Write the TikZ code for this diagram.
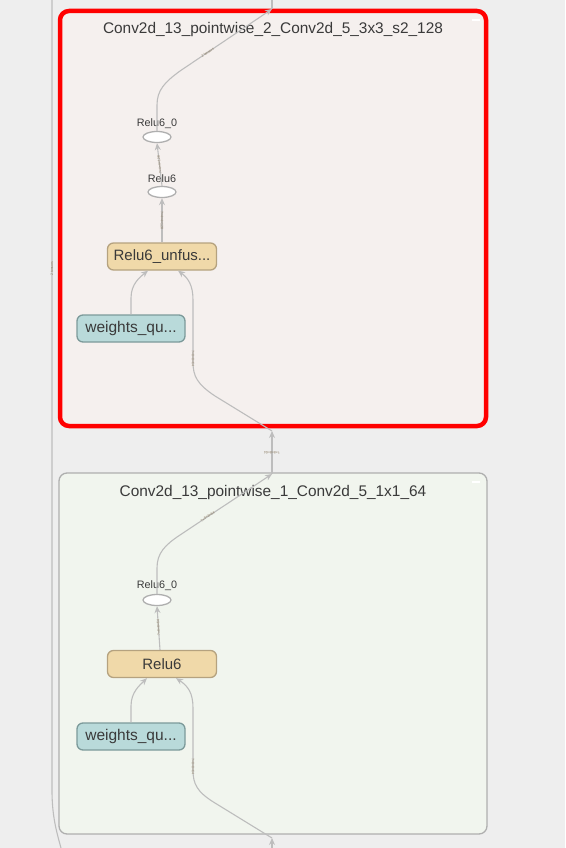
\documentclass[tikz,border=0pt]{standalone}
\usepackage{fontspec}
\setmainfont{Liberation Sans}
\usetikzlibrary{shapes.geometric,arrows.meta}
\definecolor{bggray}{HTML}{EEEEEE}
\definecolor{edgegray}{HTML}{BDBDBD}
\definecolor{topfill}{HTML}{F5F0EE}
\definecolor{botfill}{HTML}{F1F5EE}
\definecolor{boxline}{HTML}{AFAFAF}
\definecolor{opfill}{HTML}{F0D9A9}
\definecolor{opline}{HTML}{B5A27F}
\definecolor{wfill}{HTML}{B9DADA}
\definecolor{wline}{HTML}{7C9A9A}
\definecolor{txt}{HTML}{3A3A3A}
\definecolor{lbl}{HTML}{8A7A60}
\tikzset{
  edge/.style={draw=edgegray,line width=1.1pt},
  arr/.style={edge,-{Stealth[length=7pt,width=6pt]}},
  opnode/.style={draw=opline,fill=opfill,line width=1.3pt,rounded corners=6pt,minimum width=109pt,minimum height=27pt,inner sep=0pt,text=txt,font=\fontsize{15}{17}\selectfont},
  wnode/.style={draw=wline,fill=wfill,line width=1.3pt,rounded corners=6pt,minimum width=108pt,minimum height=27pt,inner sep=0pt,text=txt,font=\fontsize{15.5}{17}\selectfont},
  ell/.style={ellipse,draw=boxline,fill=white,line width=1.3pt,minimum width=28pt,minimum height=11pt,inner sep=0pt},
  smalltxt/.style={text=txt,font=\fontsize{10.8}{12}\selectfont,inner sep=0pt},
  title/.style={text=txt,font=\fontsize{15.4}{17}\selectfont,inner sep=0pt},
  elabel/.style={text=lbl,font=\fontsize{3.5}{4}\selectfont,inner sep=0.5pt,sloped},
}
\begin{document}
\begin{tikzpicture}[x=1pt,y=-1pt]
\fill[bggray] (0,0) rectangle (565,848);
\useasboundingbox (0,0) rectangle (565,848);
% left long edge
\coordinate (ltop) at (52,0);
\coordinate (lbot) at (61,848);
\draw[edge] (ltop) -- (52,790) node[elabel,pos=0.34,rotate=180] {2 tensors}
  .. controls (52,815) and (56,830) .. (lbot);
% ---------- top box ----------
\node[draw=red,fill=topfill,line width=4.5pt,rounded corners=9pt,minimum width=426pt,minimum height=415pt,inner sep=0pt] (boxA) at (273,218.5) {};
\draw[white,line width=1.5pt] (472,20) -- (480,20);
\node[title] (titleA) at (273,30) {Conv2d\_13\_pointwise\_2\_Conv2d\_5\_3x3\_s2\_128};
\node[ell] (rA0) at (157,137) {};
\node[smalltxt] (rA0l) at (157,124) {Relu6\_0};
\node[ell] (rA1) at (162,192) {};
\node[smalltxt] (rA1l) at (162,179) {Relu6};
\node[opnode] (unf) at (162,256.5) {Relu6\_unfus...};
\node[wnode] (wA) at (131,328.5) {weights\_qu...};
\coordinate (outA) at (272,9);
\coordinate (topend) at (272,0);
\coordinate (inA) at (272,431);
\draw[edge] (outA) -- (topend);
\draw[arr] (rA0.north) -- (157,105) .. controls (157,90) and (165,82) .. (180,71) -- (outA)
  node[elabel,pos=0.3] {2 tensors};
\draw[arr] (rA1.north) -- (rA0.south) node[elabel,midway,rotate=180] {?×4×4×128};
\draw[arr] (unf.north -| rA1) -- (rA1.south) node[elabel,midway,rotate=180] {?×4×4×128};
\draw[arr] (wA.north) -- (131,298) .. controls (131,284) and (140,277) .. ([xshift=-14pt]unf.south);
\draw[arr] (inA) -- (215,396) .. controls (197,384) and (193,376) .. (193,362) -- (193,300)
  node[elabel,pos=0.05,rotate=180] {?×8×8×64}
  .. controls (193,285) and (188,278) .. ([xshift=16pt]unf.south);
% ---------- bottom box ----------
\node[draw=boxline,fill=botfill,line width=1.3pt,rounded corners=8pt,minimum width=428pt,minimum height=361pt,inner sep=0pt] (boxB) at (273,653.5) {};
\draw[white,line width=1.5pt] (472,482) -- (480,482);
\node[title] (titleB) at (273,493) {Conv2d\_13\_pointwise\_1\_Conv2d\_5\_1x1\_64};
\node[ell] (rB0) at (157,600) {};
\node[smalltxt] (rB0l) at (157,586) {Relu6\_0};
\node[opnode] (rB) at (162,664) {Relu6};
\node[wnode] (wB) at (131,736.5) {weights\_qu...};
\coordinate (outB) at (272,474);
\coordinate (inB) at (272,838);
\coordinate (botend) at (272,848);
\draw[arr] (outB) -- (inA) node[elabel,midway,rotate=90] {?×8×8×64};
\draw[arr] (rB0.north) -- (157,568) .. controls (157,553) and (165,545) .. (180,535) -- (outB)
  node[elabel,pos=0.3] {?×8×8×64};
\draw[arr] ([xshift=-2pt]rB.north) -- (rB0.south) node[elabel,midway,rotate=180] {?×8×8×64};
\draw[arr] (wB.north) -- (131,706) .. controls (131,692) and (140,685) .. ([xshift=-15pt]rB.south);
\draw[arr] (botend) -- (inB);
\draw[arr] (inB) -- (215,803) .. controls (197,792) and (193,784) .. (193,770) -- (193,708)
  node[elabel,pos=0.05,rotate=180] {?×8×8×64}
  .. controls (193,693) and (188,686) .. ([xshift=14pt]rB.south);
\end{tikzpicture}
\end{document}
